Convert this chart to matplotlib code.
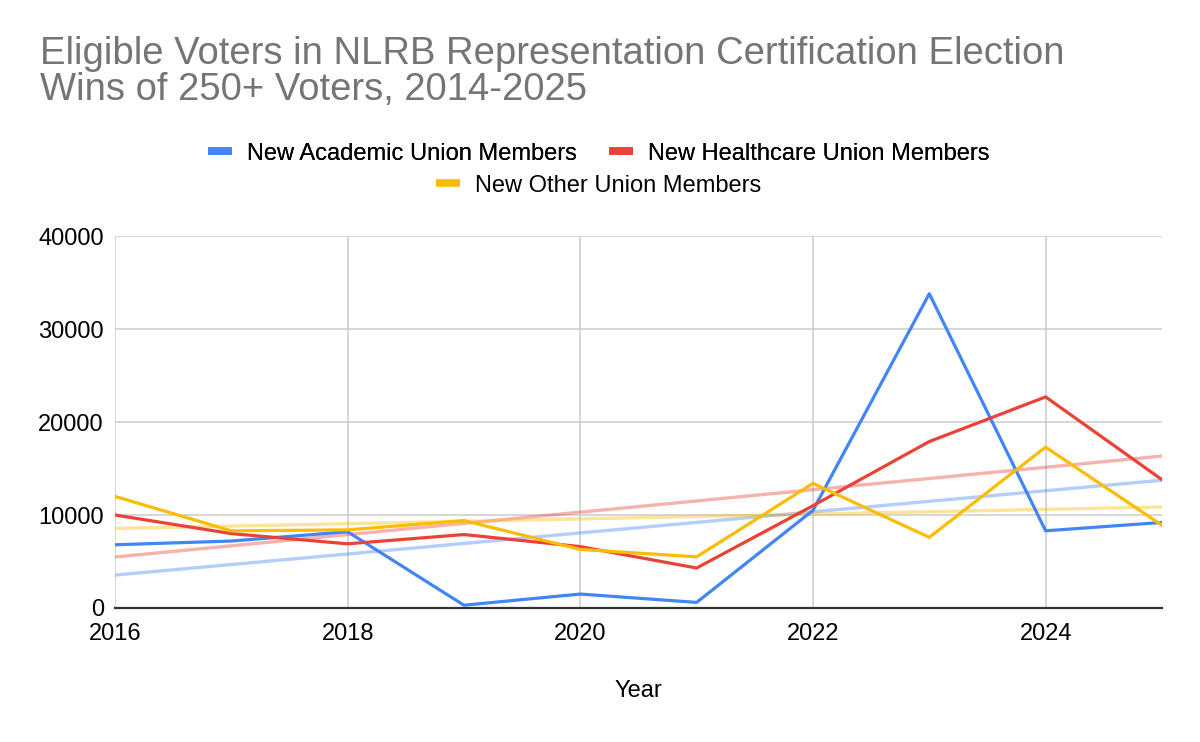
import numpy as np
import matplotlib.pyplot as plt
from matplotlib.lines import Line2D

plt.rcParams['font.family'] = ['Liberation Sans', 'DejaVu Sans']

years = [2016, 2017, 2018, 2019, 2020, 2021, 2022, 2023, 2024, 2025]
academic = [6800, 7200, 8200, 300, 1500, 600, 10500, 33800, 8300, 9200]
healthcare = [10000, 8000, 6900, 7900, 6600, 4300, 11000, 17900, 22700, 13800]
other = [12000, 8300, 8400, 9400, 6300, 5500, 13400, 7600, 17300, 8900]

names = ['New Academic Union Members', 'New Healthcare Union Members', 'New Other Union Members']
colors = ['#4285F4', '#EA4335', '#FBBC04']

fig = plt.figure(figsize=(12, 7.42), dpi=100)
ax = fig.add_axes([0.0958, 0.1806, 0.8725, 0.5013])

x = np.array(years)
for ys, c in zip([academic, healthcare, other], colors):
    # linear trendline fitted to the series
    m, b = np.polyfit(x, ys, 1)
    ax.plot(x, m * x + b, color=c, lw=2.4, alpha=0.4, zorder=2, solid_capstyle='butt')
for ys, c in zip([academic, healthcare, other], colors):
    ax.plot(x, ys, color=c, lw=2.3, zorder=3)

ax.set_xlim(2016, 2025)
ax.set_ylim(0, 40000)
ax.set_xticks([2016, 2018, 2020, 2022, 2024])
ax.set_yticks([0, 10000, 20000, 30000, 40000])
ax.tick_params(length=0, labelsize=17)
ax.tick_params(axis='y', pad=8)
ax.tick_params(axis='x', pad=11)
ax.grid(True, color='#cccccc', lw=1.1, zorder=0)
for s in ['top', 'right', 'left']:
    ax.spines[s].set_visible(False)
ax.spines['bottom'].set_color('#333333')
ax.spines['bottom'].set_linewidth(1.6)
ax.set_xlabel('Year', fontsize=17, labelpad=25)

fig.text(0.033, 0.914, 'Eligible Voters in NLRB Representation Certification Election',
         fontsize=27.5, color='#757575', va='baseline', ha='left')
fig.text(0.033, 0.865, 'Wins of 250+ Voters, 2014-2025',
         fontsize=27.5, color='#757575', va='baseline', ha='left')

handles = [Line2D([], [], color=c, lw=5.5, solid_capstyle='butt') for c in colors]
leg1 = fig.legend(handles[:2], names[:2], loc='center', bbox_to_anchor=(0.499, 0.793), ncol=2,
                  frameon=False, fontsize=17, handlelength=1.0, handletextpad=0.64,
                  columnspacing=1.35, borderpad=0, borderaxespad=0)
fig.add_artist(leg1)
fig.legend(handles[2:], names[2:], loc='center', bbox_to_anchor=(0.499, 0.750),
           frameon=False, fontsize=17, handlelength=1.0, handletextpad=0.64,
           borderpad=0, borderaxespad=0)

fig.savefig('out.png', dpi=100)
